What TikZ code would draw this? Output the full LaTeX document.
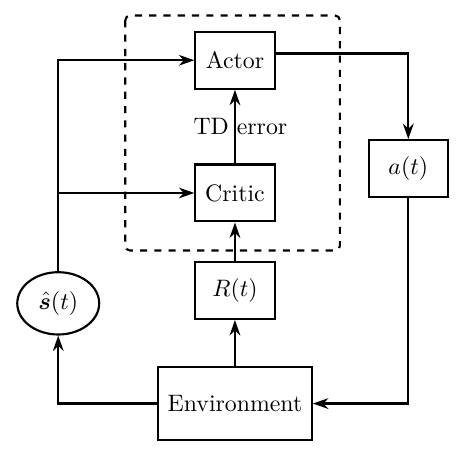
\documentclass[tikz,border=0pt]{standalone}
\usepackage{bm}
\usetikzlibrary{arrows.meta,shapes.geometric}
\begin{document}
\begin{tikzpicture}[
  block/.style={rectangle, draw, line width=0.9pt, minimum width=1.17cm, minimum height=0.84cm, align=center},
  >={Stealth[length=6.5pt,width=4.5pt]},
  node distance=2cm
]
\useasboundingbox (-3.47,0.89) rectangle (3.53,-5.78);
\node[block] (actor) {Actor};
\node[block, below of=actor, node distance=1.96cm] (critic) {Critic};
\node[block, below of=critic, node distance=1.44cm] (reward) {$R(t)$};
\node[block, below of=reward, node distance=1.67cm, minimum width=2.27cm, minimum height=1.08cm] (env) {Environment};
\node[block] at (2.56,-1.6) (action) {$a(t)$};
\node[ellipse, draw, line width=0.9pt, minimum width=1.21cm, minimum height=0.92cm] at (-2.61,-3.59) (state) {$\hat{\bm{s}}(t)$};
\coordinate (tap) at (state.north |- critic.west);

\draw[dashed, line width=0.9pt, rounded corners=2pt] (-1.62,0.66) rectangle (1.55,-2.81);

\draw[->,line width=0.9pt] (state.north) |- (actor.west);
\draw[->,line width=0.9pt] (tap) -- (critic.west);
\draw[->,line width=0.9pt] ([yshift=0.1cm]actor.east) -| (action.north);
\draw[->,line width=0.9pt] (action.south) |- (env.east);
\draw[->,line width=0.9pt] (env.west) -| (state.south);
\draw[->,line width=0.9pt] (env) -- (reward);
\draw[->,line width=0.9pt] (reward) -- (critic);
\draw[->,line width=0.9pt] (critic) -- node[xshift=0.08cm] {TD error} (actor);
\end{tikzpicture}
\end{document}
